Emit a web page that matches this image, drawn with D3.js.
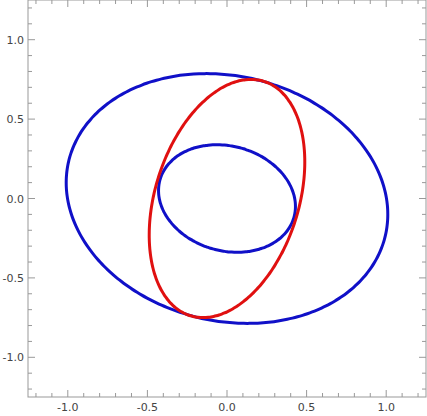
<!DOCTYPE html><html><head><script src="https://cdn.jsdelivr.net/npm/d3@7"></script>
<style>body{margin:0;background:#fff}</style></head><body><svg id="c" width="427" height="416"></svg>
<script>
// ellipses as x = ax*cos t + bx*sin t, y = ay*cos t + by*sin t
const ellipses = [
  {name:"outer", color:"#1010c8", ax:1.01, bx:0, ay:-0.10, by:0.78},
  {name:"inner", color:"#1010c8", ax:0.43, bx:0, ay:-0.05, by:0.335},
  {name:"red", color:"#e01010", ax:0.465, bx:0.15, ay:0, by:0.75}
];
const tickValues = [-1.0,-0.5,0.0,0.5,1.0];
const tickLabels = ["-1.0","-0.5","0.0","0.5","1.0"];
const svg = d3.select("#c");
const L=28,R=426,T=0,B=397;
const x = d3.scaleLinear().domain([-1.25,1.25]).range([L,R]);
const y = d3.scaleLinear().domain([-1.25,1.25]).range([B,T]);
const minor = d3.range(-12,13).map(i=>i/10);
const g = svg.append("g");
g.append("rect").attr("x",L).attr("y",T).attr("width",R-L).attr("height",B-T).attr("fill","none").attr("stroke","#999");
const isMajor = v=>Math.abs(v*2-Math.round(v*2))<1e-6;
minor.forEach(v=>{
  const len = isMajor(v)?7:4;
  g.append("line").attr("x1",x(v)).attr("x2",x(v)).attr("y1",B).attr("y2",B-len).attr("stroke","#999");
  g.append("line").attr("x1",x(v)).attr("x2",x(v)).attr("y1",T).attr("y2",T+len).attr("stroke","#999");
  g.append("line").attr("y1",y(v)).attr("y2",y(v)).attr("x1",L).attr("x2",L+len).attr("stroke","#999");
  g.append("line").attr("y1",y(v)).attr("y2",y(v)).attr("x1",R).attr("x2",R-len).attr("stroke","#999");
});
tickValues.forEach((v,i)=>{
  g.append("text").attr("x",x(v)).attr("y",B+14).attr("text-anchor","middle").attr("font-family","DejaVu Sans").attr("font-size",11).attr("fill","#444").text(tickLabels[i]);
  g.append("text").attr("x",L-4).attr("y",y(v)+4).attr("text-anchor","end").attr("font-family","DejaVu Sans").attr("font-size",11).attr("fill","#444").text(tickLabels[i]);
});
const ts = d3.range(0,360,2).map(d=>d*Math.PI/180);
const line = d3.line().x(d=>x(d[0])).y(d=>y(d[1])).curve(d3.curveCardinalClosed);
ellipses.forEach(e=>{
  const pts = ts.map(t=>[e.ax*Math.cos(t)+e.bx*Math.sin(t), e.ay*Math.cos(t)+e.by*Math.sin(t)]);
  svg.append("path").attr("d",line(pts)).attr("fill","none").attr("stroke",e.color).attr("stroke-width",3);
});
</script></body></html>
